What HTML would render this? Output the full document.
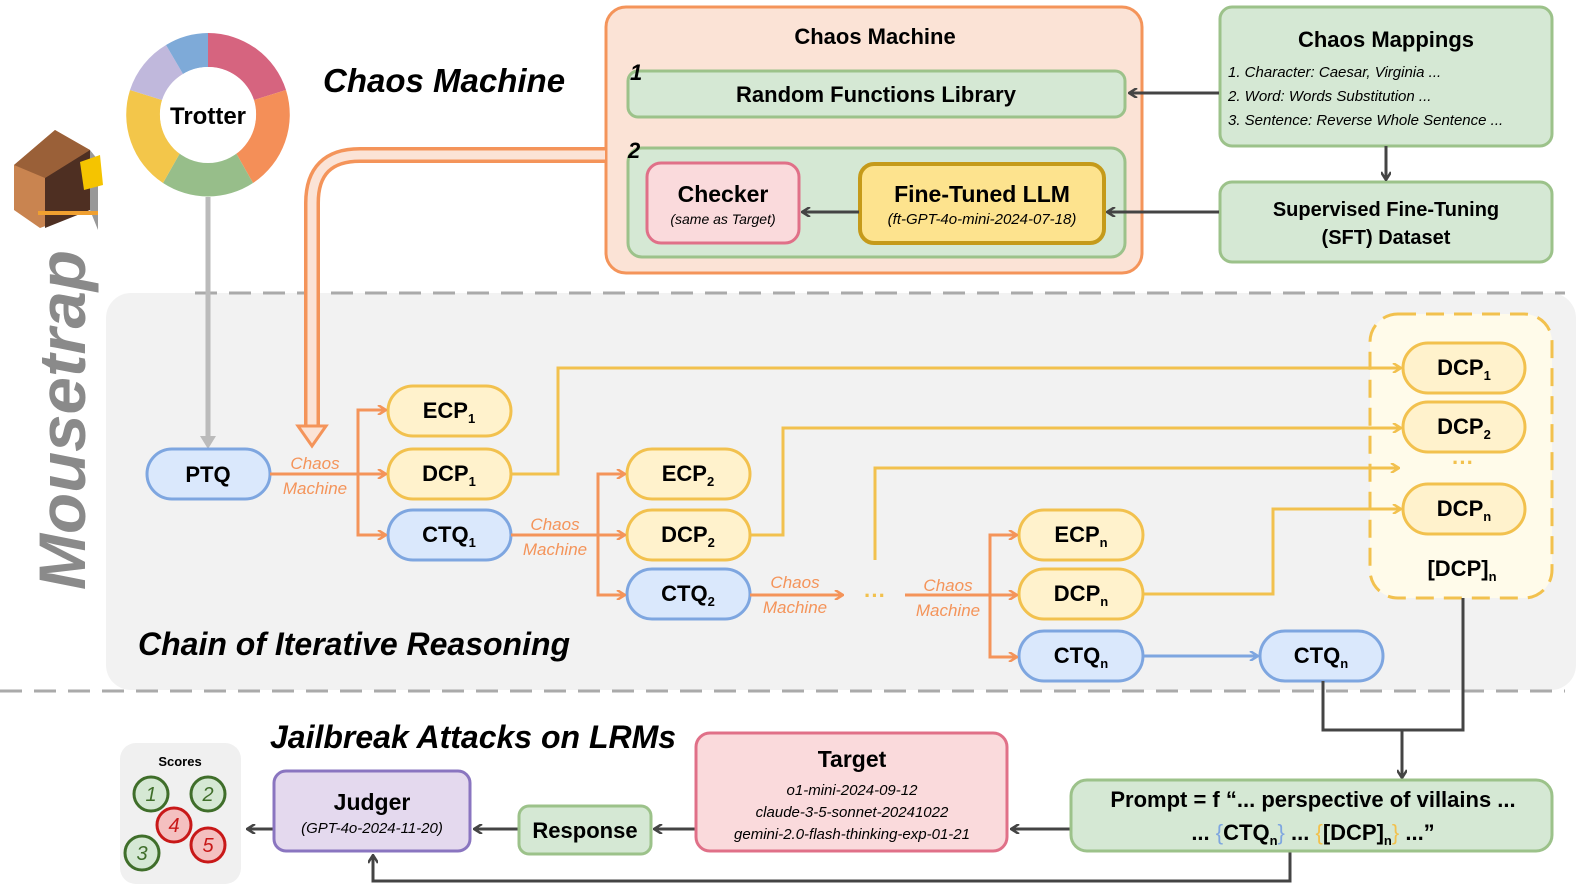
<!DOCTYPE html>
<html><head><meta charset="utf-8"><style>
html,body{margin:0;padding:0;background:#fff;width:1581px;height:895px;overflow:hidden}
svg{display:block;font-family:"Liberation Sans",sans-serif}
.b{font-weight:bold}
.i{font-style:italic}
</style></head><body>
<svg width="1581" height="895" viewBox="0 0 1581 895" xmlns="http://www.w3.org/2000/svg">
<defs>
<marker id="ad" markerWidth="10" markerHeight="10" refX="8" refY="5" orient="auto" markerUnits="userSpaceOnUse"><path d="M1,0 L9,5 L1,10" fill="none" stroke="#444" stroke-width="2.5"/></marker>
<marker id="ao" markerWidth="10" markerHeight="10" refX="8" refY="5" orient="auto" markerUnits="userSpaceOnUse"><path d="M1,0 L9,5 L1,10" fill="none" stroke="#f4945a" stroke-width="2.5"/></marker>
<marker id="ay" markerWidth="10" markerHeight="10" refX="8" refY="5" orient="auto" markerUnits="userSpaceOnUse"><path d="M1,0 L9,5 L1,10" fill="none" stroke="#f2c14e" stroke-width="2.5"/></marker>
<marker id="ab" markerWidth="10" markerHeight="10" refX="8" refY="5" orient="auto" markerUnits="userSpaceOnUse"><path d="M1,0 L9,5 L1,10" fill="none" stroke="#7ea6e0" stroke-width="2.5"/></marker>
</defs>

<!-- grey panel -->
<rect x="106" y="293" width="1470" height="397" rx="25" fill="#f2f2f2"/>
<line x1="195" y1="293" x2="1565" y2="293" stroke="#aaa" stroke-width="3" stroke-dasharray="22 12"/>
<line x1="0" y1="691" x2="1565" y2="691" stroke="#aaa" stroke-width="3" stroke-dasharray="22 12"/>

<!-- Mousetrap -->
<text transform="translate(85,590) rotate(-90)" font-size="66" class="b i" fill="#8a8a8a" textLength="340" lengthAdjust="spacingAndGlyphs">Mousetrap</text>
<!-- trap icon -->
<polygon points="14,165 55,130 90,150 90,210 40,228 14,210" fill="#c98450"/>
<polygon points="14,165 55,130 90,150 45,178" fill="#9a6038"/>
<polygon points="45,178 90,150 90,210 45,228" fill="#4e2f22"/>
<polygon points="90,150 98,160 98,230 90,210" fill="#999"/>
<polygon points="80,162 100,155 103,185 84,190" fill="#f5c400"/>
<line x1="38" y1="213" x2="98" y2="213" stroke="#f0a030" stroke-width="4"/>

<!-- Trotter donut -->
<g transform="translate(208,115)">
<path d="M0,-82 A82,82 0 0 1 78,-25 L46,-15 A48,48 0 0 0 0,-48 Z" fill="#d6647f"/>
<path d="M78,-25 A82,82 0 0 1 45,68 L28,38 A48,48 0 0 0 46,-15 Z" fill="#f48f58"/>
<path d="M45,68 A82,82 0 0 1 -45,68 L-28,38 A48,48 0 0 0 28,38 Z" fill="#97be8a"/>
<path d="M-45,68 A82,82 0 0 1 -78,-25 L-46,-15 A48,48 0 0 0 -28,38 Z" fill="#f3c64a"/>
<path d="M-78,-25 A82,82 0 0 1 -42,-70 L-25,-41 A48,48 0 0 0 -46,-15 Z" fill="#c0b8dc"/>
<path d="M-42,-70 A82,82 0 0 1 0,-82 L0,-48 A48,48 0 0 0 -25,-41 Z" fill="#7eaad8"/>
<circle r="48" fill="#fff"/>
<text y="9" text-anchor="middle" font-size="24" class="b">Trotter</text>
</g>
<line x1="208" y1="197" x2="208" y2="440" stroke="#bbb" stroke-width="5"/>
<path d="M200,436 L216,436 L208,449 Z" fill="#bbb"/>

<text x="323" y="92" font-size="33" class="b i">Chaos Machine</text>

<!-- Chaos Machine box -->
<rect x="606" y="7" width="536" height="266" rx="20" fill="#fbe3d6" stroke="#f4945a" stroke-width="3"/>
<text x="875" y="44" text-anchor="middle" font-size="22" class="b">Chaos Machine</text>
<rect x="628" y="71" width="497" height="46" rx="10" fill="#d5e8d4" stroke="#9cc28a" stroke-width="3"/>
<text x="630" y="80" font-size="22" class="b i">1</text>
<text x="876" y="102" text-anchor="middle" font-size="22" class="b">Random Functions Library</text>
<rect x="628" y="148" width="497" height="109" rx="14" fill="#d5e8d4" stroke="#9cc28a" stroke-width="3"/>
<text x="628" y="158" font-size="22" class="b i">2</text>
<rect x="647" y="163" width="152" height="80" rx="14" fill="#fadadc" stroke="#e07088" stroke-width="3"/>
<text x="723" y="202" text-anchor="middle" font-size="23" class="b">Checker</text>
<text x="723" y="224" text-anchor="middle" font-size="14" class="i">(same as Target)</text>
<rect x="860" y="164" width="244" height="79" rx="14" fill="#fde38e" stroke="#c59a1a" stroke-width="4"/>
<text x="982" y="202" text-anchor="middle" font-size="23" class="b">Fine-Tuned LLM</text>
<text x="982" y="224" text-anchor="middle" font-size="15" class="i">(ft-GPT-4o-mini-2024-07-18)</text>
<line x1="859" y1="212" x2="803" y2="212" stroke="#444" stroke-width="3" marker-end="url(#ad)"/>

<!-- Chaos Mappings -->
<rect x="1220" y="7" width="332" height="139" rx="12" fill="#d5e8d4" stroke="#9cc28a" stroke-width="3"/>
<text x="1386" y="47" text-anchor="middle" font-size="22" class="b">Chaos Mappings</text>
<text x="1228" y="77" font-size="15" class="i">1. Character: Caesar, Virginia ...</text>
<text x="1228" y="101" font-size="15" class="i">2. Word: Words Substitution ...</text>
<text x="1228" y="125" font-size="15" class="i">3. Sentence: Reverse Whole Sentence ...</text>
<rect x="1220" y="182" width="332" height="80" rx="12" fill="#d5e8d4" stroke="#9cc28a" stroke-width="3"/>
<text x="1386" y="216" text-anchor="middle" font-size="20" class="b">Supervised Fine-Tuning</text>
<text x="1386" y="244" text-anchor="middle" font-size="20" class="b">(SFT) Dataset</text>
<line x1="1219" y1="93" x2="1130" y2="93" stroke="#444" stroke-width="3" marker-end="url(#ad)"/>
<line x1="1386" y1="146" x2="1386" y2="179" stroke="#444" stroke-width="3" marker-end="url(#ad)"/>
<line x1="1219" y1="212" x2="1108" y2="212" stroke="#444" stroke-width="3" marker-end="url(#ad)"/>

<!-- orange hollow arrow -->
<path d="M605,155 L360,155 Q312,155 312,203 L312,428" fill="none" stroke="#f4945a" stroke-width="16"/>
<path d="M605,155 L360,155 Q312,155 312,203 L312,430" fill="none" stroke="#fbe3d6" stroke-width="9"/>
<path d="M298,426 L326,426 L312,446 Z" fill="#fbe3d6" stroke="#f4945a" stroke-width="3"/>

<g font-size="22" class="b" text-anchor="middle">
<rect x="147" y="449" width="123" height="50" rx="25" fill="#dae8fc" stroke="#7ea6e0" stroke-width="3"/><text x="208" y="482">PTQ</text>
<rect x="388" y="386" width="123" height="50" rx="25" fill="#fff2cc" stroke="#f2c14e" stroke-width="3"/><text x="449" y="418">ECP<tspan font-size="13" dy="5">1</tspan></text>
<rect x="388" y="449" width="123" height="50" rx="25" fill="#fff2cc" stroke="#f2c14e" stroke-width="3"/><text x="449" y="481">DCP<tspan font-size="13" dy="5">1</tspan></text>
<rect x="388" y="510" width="123" height="50" rx="25" fill="#dae8fc" stroke="#7ea6e0" stroke-width="3"/><text x="449" y="542">CTQ<tspan font-size="13" dy="5">1</tspan></text>
<rect x="627" y="449" width="123" height="50" rx="25" fill="#fff2cc" stroke="#f2c14e" stroke-width="3"/><text x="688" y="481">ECP<tspan font-size="13" dy="5">2</tspan></text>
<rect x="627" y="510" width="123" height="50" rx="25" fill="#fff2cc" stroke="#f2c14e" stroke-width="3"/><text x="688" y="542">DCP<tspan font-size="13" dy="5">2</tspan></text>
<rect x="627" y="569" width="123" height="50" rx="25" fill="#dae8fc" stroke="#7ea6e0" stroke-width="3"/><text x="688" y="601">CTQ<tspan font-size="13" dy="5">2</tspan></text>
<rect x="1019" y="510" width="124" height="50" rx="25" fill="#fff2cc" stroke="#f2c14e" stroke-width="3"/><text x="1081" y="542">ECP<tspan font-size="13" dy="5">n</tspan></text>
<rect x="1019" y="569" width="124" height="50" rx="25" fill="#fff2cc" stroke="#f2c14e" stroke-width="3"/><text x="1081" y="601">DCP<tspan font-size="13" dy="5">n</tspan></text>
<rect x="1019" y="631" width="124" height="50" rx="25" fill="#dae8fc" stroke="#7ea6e0" stroke-width="3"/><text x="1081" y="663">CTQ<tspan font-size="13" dy="5">n</tspan></text>
<rect x="1260" y="631" width="123" height="50" rx="25" fill="#dae8fc" stroke="#7ea6e0" stroke-width="3"/><text x="1321" y="663">CTQ<tspan font-size="13" dy="5">n</tspan></text>
</g>

<rect x="1370" y="314" width="182" height="284" rx="28" fill="#fffbea" stroke="#f2c14e" stroke-width="3" stroke-dasharray="18 10"/>
<g font-size="22" class="b" text-anchor="middle">
<rect x="1403" y="343" width="122" height="50" rx="25" fill="#fff2cc" stroke="#f2c14e" stroke-width="3"/><text x="1464" y="375">DCP<tspan font-size="13" dy="5">1</tspan></text>
<rect x="1403" y="402" width="122" height="50" rx="25" fill="#fff2cc" stroke="#f2c14e" stroke-width="3"/><text x="1464" y="434">DCP<tspan font-size="13" dy="5">2</tspan></text>
<text x="1463" y="470" fill="#f2c14e">···</text>
<rect x="1403" y="484" width="122" height="50" rx="25" fill="#fff2cc" stroke="#f2c14e" stroke-width="3"/><text x="1464" y="516">DCP<tspan font-size="13" dy="5">n</tspan></text>
<text x="1462" y="576">[DCP]<tspan font-size="13" dy="5">n</tspan></text>
</g>

<g fill="none" stroke="#f4945a" stroke-width="3">
<line x1="270" y1="474" x2="385" y2="474" marker-end="url(#ao)"/>
<path d="M358,474 L358,410 L385,410" marker-end="url(#ao)"/>
<path d="M358,474 L358,535 L385,535" marker-end="url(#ao)"/>
<line x1="511" y1="535" x2="624" y2="535" marker-end="url(#ao)"/>
<path d="M598,535 L598,474 L624,474" marker-end="url(#ao)"/>
<path d="M598,535 L598,595 L624,595" marker-end="url(#ao)"/>
<line x1="750" y1="595" x2="842" y2="595" marker-end="url(#ao)"/>
<line x1="905" y1="595" x2="1016" y2="595" marker-end="url(#ao)"/>
<path d="M990,595 L990,535 L1016,535" marker-end="url(#ao)"/>
<path d="M990,595 L990,657 L1016,657" marker-end="url(#ao)"/>
</g>
<g font-size="17" class="i" fill="#f4945a" text-anchor="middle">
<text x="315" y="469">Chaos</text><text x="315" y="494">Machine</text>
<text x="555" y="530">Chaos</text><text x="555" y="555">Machine</text>
<text x="795" y="588">Chaos</text><text x="795" y="613">Machine</text>
<text x="948" y="591">Chaos</text><text x="948" y="616">Machine</text>
</g>
<text x="875" y="603" font-size="22" class="b" fill="#f2c14e" text-anchor="middle">···</text>

<g fill="none" stroke="#f2c14e" stroke-width="3">
<path d="M511,474 L558,474 L558,368 L1400,368" marker-end="url(#ay)"/>
<path d="M750,535 L783,535 L783,428 L1400,428" marker-end="url(#ay)"/>
<path d="M875,560 L875,468 L1398,468" marker-end="url(#ay)"/>
<path d="M1143,594 L1273,594 L1273,509 L1400,509" marker-end="url(#ay)"/>
</g>
<line x1="1143" y1="656" x2="1257" y2="656" stroke="#7ea6e0" stroke-width="3" marker-end="url(#ab)"/>

<text x="138" y="655" font-size="32" class="b i">Chain of Iterative Reasoning</text>

<g fill="none" stroke="#444" stroke-width="3">
<path d="M1463,598 L1463,730 L1323,730 L1323,681"/>
<line x1="1402" y1="730" x2="1402" y2="777" marker-end="url(#ad)"/>
<line x1="1071" y1="829" x2="1012" y2="829" marker-end="url(#ad)"/>
<line x1="696" y1="829" x2="655" y2="829" marker-end="url(#ad)"/>
<line x1="519" y1="829" x2="475" y2="829" marker-end="url(#ad)"/>
<line x1="273" y1="829" x2="248" y2="829" marker-end="url(#ad)"/>
<path d="M1290,851 L1290,881 L373,881 L373,856" marker-end="url(#ad)"/>
</g>

<text x="270" y="748" font-size="32" class="b i">Jailbreak Attacks on LRMs</text>

<rect x="1071" y="780" width="481" height="71" rx="16" fill="#d5e8d4" stroke="#9cc28a" stroke-width="3"/>
<text x="1313" y="807" text-anchor="middle" font-size="22" class="b">Prompt = f “... perspective of villains ...</text>
<text x="1313" y="840" text-anchor="middle" font-size="22" class="b">... <tspan fill="#7ea6e0" font-weight="normal">{</tspan>CTQ<tspan font-size="13" dy="5">n</tspan><tspan dy="-5" fill="#7ea6e0" font-weight="normal">}</tspan> ... <tspan fill="#f2c14e" font-weight="normal">{</tspan>[DCP]<tspan font-size="13" dy="5">n</tspan><tspan dy="-5" fill="#f2c14e" font-weight="normal">}</tspan> ...”</text>

<rect x="696" y="733" width="311" height="118" rx="14" fill="#fadadc" stroke="#e07088" stroke-width="3"/>
<text x="852" y="767" text-anchor="middle" font-size="23" class="b">Target</text>
<text x="852" y="795" text-anchor="middle" font-size="15" class="i">o1-mini-2024-09-12</text>
<text x="852" y="817" text-anchor="middle" font-size="15" class="i">claude-3-5-sonnet-20241022</text>
<text x="852" y="839" text-anchor="middle" font-size="15" class="i">gemini-2.0-flash-thinking-exp-01-21</text>

<rect x="519" y="806" width="132" height="48" rx="10" fill="#d5e8d4" stroke="#9cc28a" stroke-width="3"/>
<text x="585" y="838" text-anchor="middle" font-size="22" class="b">Response</text>

<rect x="274" y="771" width="196" height="80" rx="12" fill="#e4d9ee" stroke="#8a75c0" stroke-width="3"/>
<text x="372" y="810" text-anchor="middle" font-size="23" class="b">Judger</text>
<text x="372" y="833" text-anchor="middle" font-size="15" class="i">(GPT-4o-2024-11-20)</text>

<rect x="120" y="743" width="121" height="141" rx="16" fill="#f0f0f0"/>
<text x="180" y="766" text-anchor="middle" font-size="13" class="b">Scores</text>
<g font-size="20" class="i" text-anchor="middle">
<circle cx="151" cy="794" r="17" fill="#d5e8d4" stroke="#3f6e2a" stroke-width="3"/><text x="151" y="801" fill="#3f6e2a">1</text>
<circle cx="208" cy="794" r="17" fill="#d5e8d4" stroke="#3f6e2a" stroke-width="3"/><text x="208" y="801" fill="#3f6e2a">2</text>
<circle cx="142" cy="853" r="17" fill="#d5e8d4" stroke="#3f6e2a" stroke-width="3"/><text x="142" y="860" fill="#3f6e2a">3</text>
<circle cx="174" cy="825" r="17" fill="#f4c0c0" stroke="#c81818" stroke-width="3"/><text x="174" y="832" fill="#c81818">4</text>
<circle cx="208" cy="845" r="17" fill="#f4c0c0" stroke="#c81818" stroke-width="3"/><text x="208" y="852" fill="#c81818">5</text>
</g>
</svg>
</body></html>
